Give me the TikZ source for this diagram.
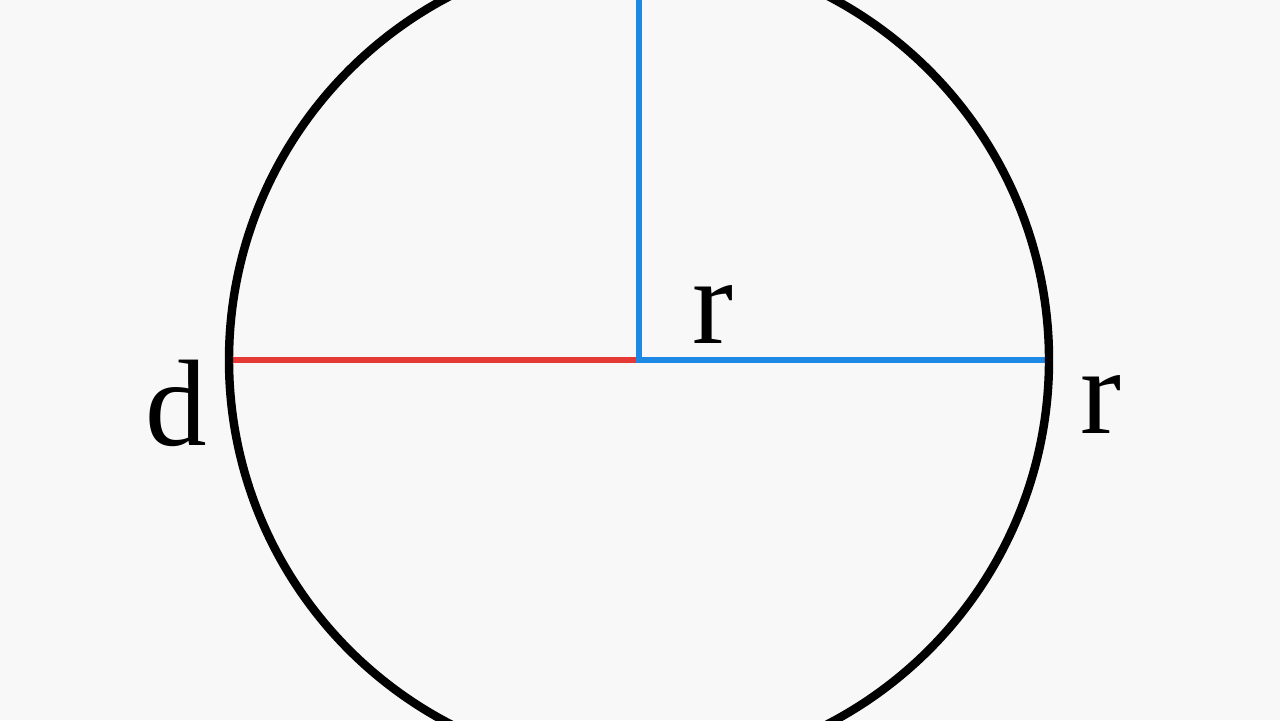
\documentclass[tikz,border=0pt]{standalone}
\usepackage{fontspec}
\setmainfont{Liberation Serif}
\definecolor{bg}{HTML}{F8F8F8}
\definecolor{myblue}{HTML}{1E88E5}
\definecolor{myred}{HTML}{E53935}
\begin{document}
\begin{tikzpicture}[x=0.01cm,y=-0.01cm,
  lbl/.style={font=\fontsize{35}{40}\selectfont, inner sep=0pt, anchor=base},
  seg/.style={line width=1.9pt}]
\useasboundingbox (0,0) rectangle (1280,720);
\fill[bg] (0,0) rectangle (1280,720);
\begin{scope}
\clip (0,0) rectangle (1280,720);
\coordinate (c) at (639,360);
\coordinate (L) at (229,360);
\coordinate (R) at (1049,360);
\coordinate (T) at (639,0);
\draw[seg, myred] (L) -- (c);
\draw[seg, myblue, line join=miter] (T) -- (c) -- (R);
\draw[line width=2.4pt, black] (c) circle[radius=410];
\end{scope}
\node[lbl] (r1) at (713,343) {r};
\node[lbl] (d) at (176,445) {d};
\node[lbl] (r2) at (1101,433) {r};
\end{tikzpicture}
\end{document}
